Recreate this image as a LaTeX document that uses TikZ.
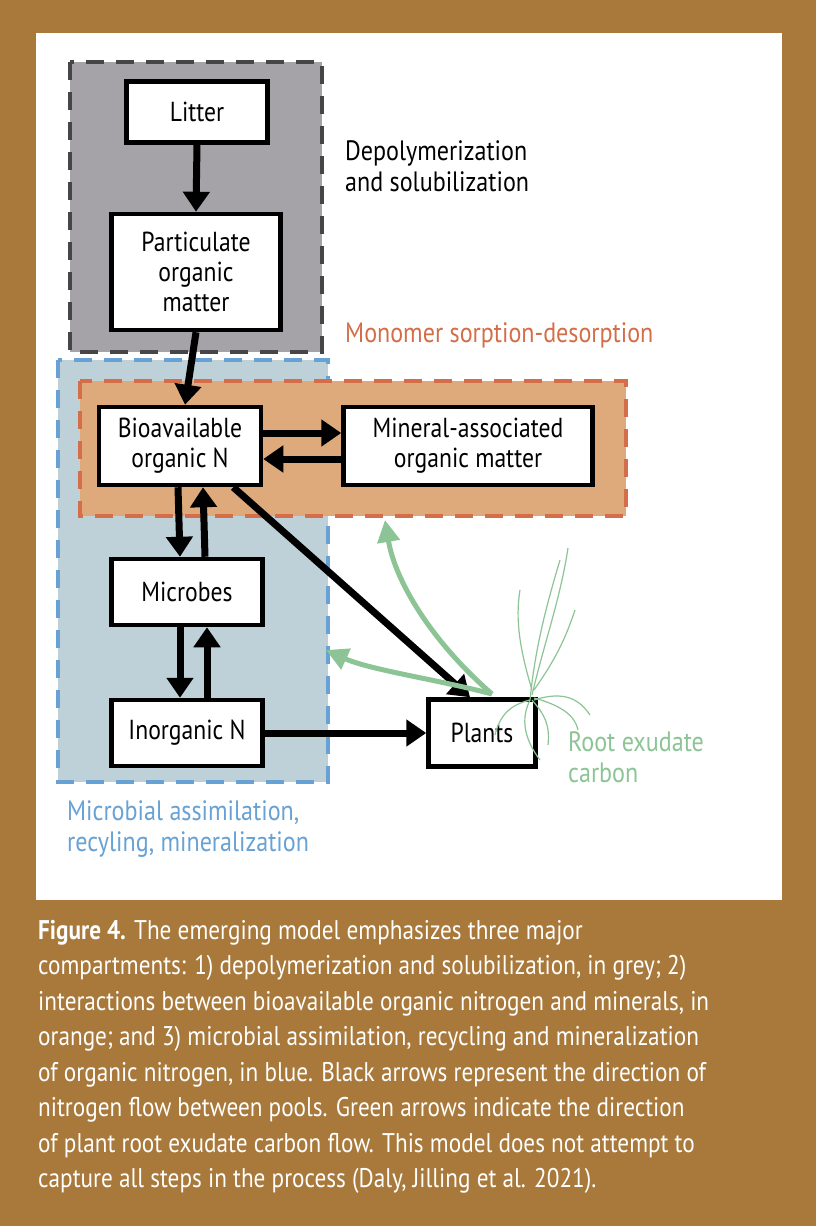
\documentclass[tikz,border=0pt]{standalone}
\usepackage{fontspec}
\setmainfont{PT Sans}[FakeStretch=0.86]
\usetikzlibrary{arrows.meta,positioning}
\definecolor{brownbg}{RGB}{168,121,58}
\definecolor{greyfill}{RGB}{166,163,168}
\definecolor{greyline}{RGB}{70,70,72}
\definecolor{bluefill}{RGB}{190,208,216}
\definecolor{blueline}{RGB}{104,162,212}
\definecolor{orangefill}{RGB}{222,170,124}
\definecolor{orangeline}{RGB}{212,110,72}
\definecolor{greenflow}{RGB}{140,196,150}
\begin{document}
\begin{tikzpicture}[x=1pt,y=-1pt]
    \tikzstyle{pool} = [
      draw=black,
      fill=white,
      line width=4.5pt,
      align=center,
      font=\fontsize{27.5}{30}\selectfont,
      inner sep=0pt,
    ]
    \tikzstyle{compartment} = [
      line width=4pt,
      dash pattern=on 18pt off 12pt,
    ]
    \tikzstyle{flow} = [
      line width=7pt,
      -{Triangle[length=20pt,width=26pt]},
      draw=black,
    ]
    \tikzstyle{exudate} = [
      line width=5pt,
      -{Triangle[length=22pt,width=22pt]},
      draw=greenflow,
    ]
    \tikzstyle{label} = [
      anchor=north west,
      align=left,
      inner sep=0pt,
      font=\fontsize{28}{31}\selectfont,
    ]

    % background and panel
    \fill[brownbg] (0,0) rectangle (816,1226);
    \fill[white] (36,33) rectangle (782,900);

    % compartments
    \filldraw[compartment, fill=greyfill, draw=greyline] (70,62) rectangle (322,352);
    \filldraw[compartment, fill=bluefill, draw=blueline] (58,360) rectangle (328,782);
    \filldraw[compartment, fill=orangefill, draw=orangeline] (80,381) rectangle (626,516);

    % pools
    \node[pool, minimum width=141pt, minimum height=61pt] (litter) at (197,112) {Litter};
    \node[pool, minimum width=169pt, minimum height=116pt] (pom) at (196,272) {Particulate\\organic\\matter};
    \node[pool, minimum width=162pt, minimum height=78pt] (bioN) at (180,446) {Bioavailable\\organic N};
    \node[pool, minimum width=249pt, minimum height=78pt] (maom) at (468,446) {Mineral-associated\\organic matter};
    \node[pool, minimum width=151pt, minimum height=66pt] (microbes) at (187,592) {Microbes};
    \node[pool, minimum width=151pt, minimum height=66pt] (inorgN) at (187,733) {Inorganic N};
    \node[pool, minimum width=107pt, minimum height=67pt] (plants) at (482,733) {Plants};

    % nitrogen flows
    \draw[flow] (litter.south) -- (pom.north);
    \draw[flow] (pom.south) -- ([xshift=5pt] bioN.north);
    \draw[flow] ([yshift=13pt] bioN.east) -- ([yshift=13pt] maom.west);
    \draw[flow] ([yshift=-13pt] maom.west) -- ([yshift=-13pt] bioN.east);
    \draw[flow] ([xshift=-2pt] bioN.south) -- ([xshift=-7pt] microbes.north);
    \draw[flow] ([xshift=18pt] microbes.north) -- ([xshift=23pt] bioN.south);
    \draw[flow] ([xshift=-7pt] microbes.south) -- ([xshift=-7pt] inorgN.north);
    \draw[flow] ([xshift=20pt] inorgN.north) -- ([xshift=20pt] microbes.south);
    \draw[flow] ([xshift=-30pt] bioN.south east) -- ([xshift=-12pt] plants.north);
    \draw[flow] (inorgN.east) -- (plants.west);

    % root exudate carbon
    \coordinate (root) at (492,694);
    \draw[exudate] (root) .. controls (430,640) and (395,580) .. (385,520);
    \draw[exudate] (root) .. controls (440,680) and (370,670) .. (326,650);

    % plant sketch
    \begin{scope}[draw=greenflow, line width=1.2pt]
      \draw (530,700) .. controls (535,650) and (545,610) .. (560,560);
      \draw (532,690) .. controls (520,650) and (515,620) .. (520,590);
      \draw (534,690) .. controls (555,660) and (565,640) .. (575,610);
      \draw (532,695) .. controls (545,640) and (560,600) .. (568,548);
      \draw (530,700) .. controls (510,705) and (500,715) .. (495,735);
      \draw (532,700) .. controls (545,715) and (550,725) .. (548,745);
      \draw (534,698) .. controls (560,705) and (575,715) .. (578,730);
      \draw (530,700) .. controls (520,720) and (525,740) .. (540,760);
      \draw (534,700) .. controls (565,690) and (580,700) .. (590,715);
    \end{scope}

    % compartment labels
    \node[label] (depolLabel) at (345,140) {Depolymerization\\and solubilization};
    \node[label, text=orangeline] (sorpLabel) at (345,322) {Monomer sorption-desorption};
    \node[label, text=blueline] (microLabel) at (67,800) {Microbial assimilation,\\recyling, mineralization};
    \node[label, text=greenflow] (rootLabel) at (568,731) {Root exudate\\carbon};

    % caption
    \node[label, text=white, font=\fontsize{27}{35.5}\selectfont] (caption) at (38,920)
      {\textbf{Figure 4.} The emerging model emphasizes three major\\
       compartments: 1) depolymerization and solubilization, in grey; 2)\\
       interactions between bioavailable organic nitrogen and minerals, in\\
       orange; and 3) microbial assimilation, recycling and mineralization\\
       of organic nitrogen, in blue. Black arrows represent the direction of\\
       nitrogen flow between pools. Green arrows indicate the direction\\
       of plant root exudate carbon flow. This model does not attempt to\\
       capture all steps in the process (Daly, Jilling et al. 2021).};
\end{tikzpicture}
\end{document}
